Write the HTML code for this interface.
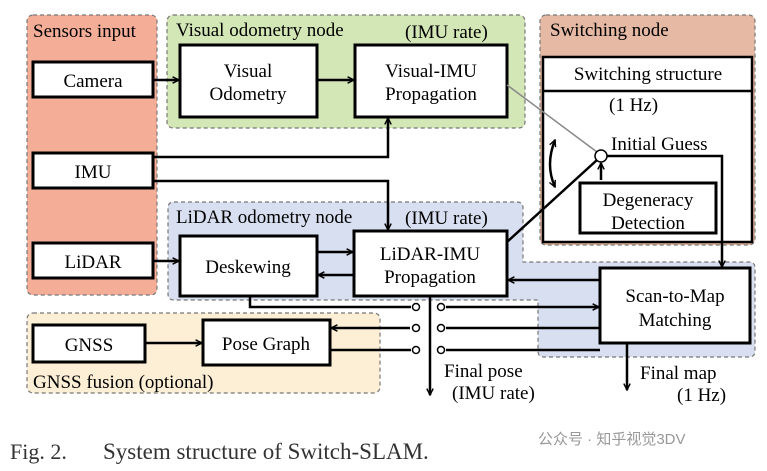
<!DOCTYPE html>
<html><head><meta charset="utf-8"><style>
body{margin:0;background:#fff;}
svg{display:block;font-family:"Liberation Serif",serif;}
</style></head><body>
<svg width="767" height="471" viewBox="0 0 767 471" xmlns="http://www.w3.org/2000/svg">
<defs>
<marker id="a" viewBox="0 0 10 10" refX="9" refY="5" markerWidth="8" markerHeight="8" orient="auto-start-reverse" markerUnits="userSpaceOnUse"><path d="M1,1 L9,5 L1,9" fill="none" stroke="#000" stroke-width="1.8"/></marker>
</defs>
<g stroke="#777" stroke-dasharray="4,3" stroke-width="1.2">
<rect x="27" y="15" width="130" height="280" rx="6" fill="#f4ae98"/>
<rect x="167" y="15" width="358" height="113" rx="6" fill="#d3e6b5"/>
<path d="M174,202 H517 Q523,202 523,208 V262 H749 Q755,262 755,268 V351 Q755,357 749,357 H544 Q538,357 538,351 V300 H174 Q168,300 168,294 V208 Q168,202 174,202Z" fill="#d8dff0"/>
<rect x="27" y="313" width="353" height="80" rx="6" fill="#fcefd6"/>
<rect x="540" y="15" width="215" height="230" rx="6" fill="#e5b9a3"/>
</g>
<g fill="#fff" stroke="#000" stroke-width="3">
<rect x="543" y="57" width="209" height="185" stroke-width="2.5"/>
<rect x="33" y="62" width="120" height="35"/>
<rect x="33" y="153" width="120" height="35"/>
<rect x="33" y="243" width="120" height="35"/>
<rect x="33" y="325" width="112" height="37"/>
<rect x="180" y="45" width="137" height="72"/>
<rect x="355" y="45" width="152" height="72"/>
<rect x="580" y="183" width="136" height="50"/>
<rect x="180" y="236" width="137" height="60"/>
<rect x="354" y="231" width="153" height="65"/>
<rect x="600" y="268" width="150" height="75"/>
<rect x="203" y="320" width="127" height="45"/>
</g>
<line x1="543" y1="91" x2="752" y2="91" stroke="#000" stroke-width="2.5"/>
<g fill="none" stroke="#000" stroke-width="2.5" marker-end="url(#a)">
<path d="M153,80 H179"/>
<path d="M317,80 H354"/>
<path d="M153,157 H388 V118"/>
<path d="M153,181 H388 V230"/>
<path d="M153,261 H179"/>
<path d="M317,252 H353"/>
<path d="M354,275 H318"/>
<path d="M600,280 H508"/>
<path d="M601,180 V163" />
<path d="M607,156 H722 V267"/>
<path d="M446,307 H599"/>
<path d="M410,328 H331"/>
<path d="M430,296 V395"/>
<path d="M627,343 V390"/>
<path d="M145,343 H202"/>
</g>
<g fill="none" stroke="#000" stroke-width="2.5">
<path d="M507,242 L597,160"/>
<path d="M250,296 V307 H411"/>
<path d="M330,350 H411"/>
<path d="M446,328 H600"/>
<path d="M446,350 H600"/>
</g>
<path d="M507,85 L597,152" stroke="#888" stroke-width="1.5"/>
<path d="M555,140 Q545,165 555,187" fill="none" stroke="#000" stroke-width="2.5" marker-start="url(#a)" marker-end="url(#a)"/>
<g fill="#fff" stroke="#000" stroke-width="1.5">
<circle cx="601" cy="156" r="6"/>
<circle cx="416" cy="307" r="3.5"/><circle cx="441" cy="307" r="3.5"/>
<circle cx="416" cy="328" r="3.5"/><circle cx="441" cy="328" r="3.5"/>
<circle cx="416" cy="350" r="3.5"/><circle cx="441" cy="350" r="3.5"/>
</g>
<g font-size="19" fill="#000">
<text x="33" y="37">Sensors input</text>
<text x="176" y="36">Visual odometry node</text>
<text x="405" y="38">(IMU rate)</text>
<text x="550" y="36">Switching node</text>
<text x="176" y="223">LiDAR odometry node</text>
<text x="405" y="224">(IMU rate)</text>
<text x="33" y="388">GNSS fusion (optional)</text>
<g text-anchor="middle">
<text x="93" y="87">Camera</text>
<text x="93" y="178">IMU</text>
<text x="93" y="268">LiDAR</text>
<text x="89" y="351">GNSS</text>
<text x="248" y="77">Visual</text><text x="248" y="100">Odometry</text>
<text x="431" y="77">Visual-IMU</text><text x="431" y="100">Propagation</text>
<text x="648" y="80">Switching structure</text>
<text x="648" y="206">Degeneracy</text><text x="648" y="229">Detection</text>
<text x="248" y="273">Deskewing</text>
<text x="430" y="260">LiDAR-IMU</text><text x="430" y="283">Propagation</text>
<text x="675" y="302">Scan-to-Map</text><text x="675" y="326">Matching</text>
<text x="266" y="350">Pose Graph</text>
</g>
<text x="609" y="111">(1 Hz)</text>
<text x="611" y="150">Initial Guess</text>
<text x="444" y="377">Final pose</text>
<text x="452" y="399">(IMU rate)</text>
<text x="640" y="379">Final map</text>
<text x="677" y="401">(1 Hz)</text>
</g>
<text x="10" y="459" font-size="22" fill="#333">Fig. 2.</text>
<text x="103" y="459" font-size="23" fill="#333">System structure of Switch-SLAM.</text>
<text x="538" y="444" font-size="15" fill="#999" font-family="'Liberation Sans','Noto Sans CJK SC',sans-serif">公众号 · 知乎视觉3DV</text>
</svg>
</body></html>
